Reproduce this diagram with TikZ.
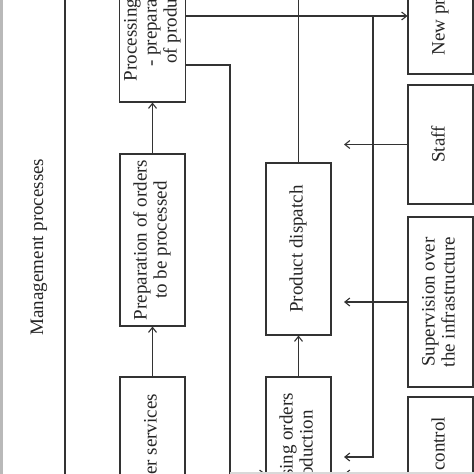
\documentclass[tikz,border=0pt]{standalone}
\usepackage{fontspec}
\setmainfont{Liberation Serif}
\usepackage{graphicx}
\usetikzlibrary{arrows.meta}
\newcommand{\vtext}[2][c]{\rotatebox{90}{\begin{tabular}{@{}#1@{}}#2\end{tabular}}}

\begin{document}
\begin{tikzpicture}[x=1pt, y=-1pt, >={Straight Barb[length=5pt,width=8pt]},
		font=\fontsize{19}{20}\selectfont,
		conn/.style={draw=black!80, line width=1.1pt},
		box/.style={conn, minimum width=65pt, text=black!85}]
			\useasboundingbox (0,0) rectangle (474,474);
			\clip (0,0) rectangle (474,474);
			\fill[white] (0,0) rectangle (474,474);
			
			\draw[gray!55, line width=3pt] (1.5,0) -- (1.5,474);
			
			\node[rotate=90, text=black!85] (mgmt) at (39,247) {Management processes};
			\coordinate (ltop) at (65,-2);
			\coordinate (lbot) at (65,476);
			\draw[conn] (ltop) -- (lbot);
			
			\node[box, minimum height=124pt] (proc) at (152.5,40) {\vtext[r]{Processing\\- prepara\\of produ}};
			\node[box, minimum height=172pt] (prep) at (152.5,240) {\vtext{Preparation of orders\\to be processed}};
			\node[box, minimum height=115pt] (cust) at (152.5,434.5) {\vtext{er services}};
			\node[box, minimum height=172pt] (disp) at (298.5,249) {\vtext{Product dispatch}};
			\node[box, minimum height=116pt] (prod) at (298.5,435) {\vtext[l]{sing orders\\oduction}};
			\node[box, minimum height=94pt] (newp) at (440.5,27) {\vtext{New pr}};
			\node[box, minimum height=119pt] (staff) at (440.5,144.5) {\vtext{Staff}};
			\node[box, minimum height=170pt] (sup) at (440.5,302) {\vtext{Supervision over\\the infrastructure}};
			\node[box, minimum height=94pt] (ctrl) at (440.5,444) {\vtext{control}};
			
			\coordinate (dtop) at (298.5,-2);
			\coordinate (j1) at (373,16);
			\coordinate (bend) at (230,65);
			\coordinate (low) at (230,474);
			\coordinate (e1) at (344,457);
			\coordinate (e2) at (344,144.5);
			\coordinate (e3) at (344,302);
			\coordinate (e4) at (344,474);
			
			\draw[conn,->] (cust) -- (prep);
			\draw[conn,->] (prep) -- (proc);
			\draw[conn,->] (prod) -- (disp);
			\draw[conn] (disp) -- (dtop);
			\draw[conn,->] (proc.east |- j1) -- (newp.west |- j1);
			\draw[conn,->] (j1) |- (e1);
			\draw[conn,->] (proc.east |- bend) -- (bend) -- (low) -- (prod.west |- low);
			\draw[conn,->] (staff) -- (e2);
			\draw[conn,->] (sup) -- (e3);
			\draw[conn,->] (ctrl.west |- e4) -- (e4);
			
			\draw[gray!30, line width=2.5pt] (230,473) -- (474,473);
		\end{tikzpicture}
\end{document}
